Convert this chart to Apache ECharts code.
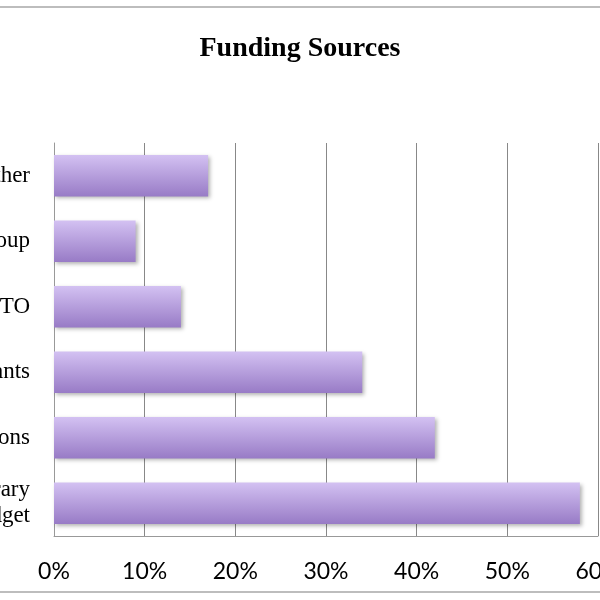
<!DOCTYPE html>
<html lang="en">
<head>
    <meta charset="UTF-8">
    <title>Funding Sources</title>
    <style>
        html, body { margin: 0; padding: 0; background: #fff; }
        #barChart { width: 600px; height: 600px; }
    </style>
</head>
<body>
<div id="barChart"></div>
<script src="https://cdn.jsdelivr.net/npm/echarts@6/dist/echarts.min.js"></script>
<script type="text/javascript">
    // bottom to top, as on the y axis
    var categories = ['Library\nBudget', 'Donations', 'Grants', 'PTO', 'Parent Group', 'Other'];
    var shares = [58, 42, 34, 14, 9, 17];
    var tickMax = 60, tickStep = 10;

    var myChart = echarts.init(document.getElementById('barChart'));
    var option = {
        animation: false,
        title: {
            text: 'Funding Sources',
            left: 'center',
            top: 30,
            textStyle: { fontFamily: 'Liberation Serif', fontWeight: 'bold', fontSize: 28, color: '#000' }
        },
        // outer frame of the original figure
        graphic: [{
            type: 'rect',
            shape: { x: -10, y: 7, width: 620, height: 585 },
            style: { fill: 'none', stroke: '#bdbdbd', lineWidth: 2 },
            silent: true
        }],
        grid: {
            left: 54,
            right: 2,
            top: 143,
            bottom: 64,
            containLabel: false,
            outerBoundsMode: 'none'
        },
        xAxis: {
            type: 'value',
            min: 0,
            max: tickMax,
            interval: tickStep,
            axisLine: { show: true, lineStyle: { color: '#999', width: 1 } },
            axisTick: { show: false },
            splitLine: { show: true, lineStyle: { color: '#888', width: 1 } },
            axisLabel: {
                formatter: '{value}%',
                margin: 24,
                fontFamily: 'Lato',
                fontSize: 23,
                color: '#000'
            }
        },
        yAxis: {
            type: 'category',
            data: categories,
            axisLine: { show: true, lineStyle: { color: '#999' } },
            axisTick: { show: false },
            axisLabel: {
                margin: 24,
                fontFamily: 'Liberation Serif',
                fontSize: 23,
                lineHeight: 26,
                color: '#000'
            }
        },
        series: [{
            name: 'Funding',
            type: 'bar',
            data: shares,
            barWidth: '63%',
            itemStyle: {
                color: new echarts.graphic.LinearGradient(0, 0, 0, 1, [
                    { offset: 0, color: '#d3c1f2' },
                    { offset: 1, color: '#987bc6' }
                ]),
                shadowColor: 'rgba(0,0,0,0.3)',
                shadowBlur: 4,
                shadowOffsetX: 2,
                shadowOffsetY: 2
            }
        }]
    };
    myChart.setOption(option);
</script>
</body>
</html>
